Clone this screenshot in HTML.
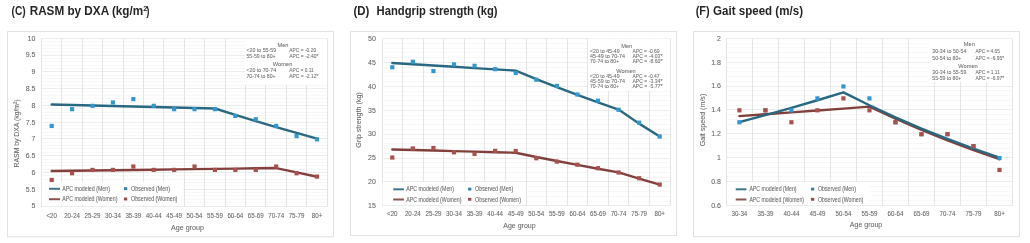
<!DOCTYPE html><html><head><meta charset="utf-8"><style>html,body{margin:0;padding:0;background:#fff;width:1030px;height:243px;overflow:hidden}svg{display:block;will-change:transform}text{font-family:"Liberation Sans",sans-serif}</style></head><body>
<svg width="1030" height="243" viewBox="0 0 1030 243">
<rect width="1030" height="243" fill="#fff"/>
<rect x="7.5" y="31.5" width="326" height="205.3" fill="#fff" stroke="#e2e2e2" stroke-width="1"/>
<line x1="41.5" y1="206.5" x2="327.2" y2="206.5" stroke="#f7f7f7" stroke-width="1"/>
<line x1="41.5" y1="202.5" x2="327.2" y2="202.5" stroke="#f7f7f7" stroke-width="1"/>
<line x1="41.5" y1="199.5" x2="327.2" y2="199.5" stroke="#f7f7f7" stroke-width="1"/>
<line x1="41.5" y1="195.5" x2="327.2" y2="195.5" stroke="#f7f7f7" stroke-width="1"/>
<line x1="41.5" y1="192.5" x2="327.2" y2="192.5" stroke="#f7f7f7" stroke-width="1"/>
<line x1="41.5" y1="189.5" x2="327.2" y2="189.5" stroke="#f7f7f7" stroke-width="1"/>
<line x1="41.5" y1="185.5" x2="327.2" y2="185.5" stroke="#f7f7f7" stroke-width="1"/>
<line x1="41.5" y1="182.5" x2="327.2" y2="182.5" stroke="#f7f7f7" stroke-width="1"/>
<line x1="41.5" y1="179.5" x2="327.2" y2="179.5" stroke="#f7f7f7" stroke-width="1"/>
<line x1="41.5" y1="175.5" x2="327.2" y2="175.5" stroke="#f7f7f7" stroke-width="1"/>
<line x1="41.5" y1="172.5" x2="327.2" y2="172.5" stroke="#f7f7f7" stroke-width="1"/>
<line x1="41.5" y1="169.5" x2="327.2" y2="169.5" stroke="#f7f7f7" stroke-width="1"/>
<line x1="41.5" y1="165.5" x2="327.2" y2="165.5" stroke="#f7f7f7" stroke-width="1"/>
<line x1="41.5" y1="162.5" x2="327.2" y2="162.5" stroke="#f7f7f7" stroke-width="1"/>
<line x1="41.5" y1="159.5" x2="327.2" y2="159.5" stroke="#f7f7f7" stroke-width="1"/>
<line x1="41.5" y1="155.5" x2="327.2" y2="155.5" stroke="#f7f7f7" stroke-width="1"/>
<line x1="41.5" y1="152.5" x2="327.2" y2="152.5" stroke="#f7f7f7" stroke-width="1"/>
<line x1="41.5" y1="148.5" x2="327.2" y2="148.5" stroke="#f7f7f7" stroke-width="1"/>
<line x1="41.5" y1="145.5" x2="327.2" y2="145.5" stroke="#f7f7f7" stroke-width="1"/>
<line x1="41.5" y1="142.5" x2="327.2" y2="142.5" stroke="#f7f7f7" stroke-width="1"/>
<line x1="41.5" y1="138.5" x2="327.2" y2="138.5" stroke="#f7f7f7" stroke-width="1"/>
<line x1="41.5" y1="135.5" x2="327.2" y2="135.5" stroke="#f7f7f7" stroke-width="1"/>
<line x1="41.5" y1="132.5" x2="327.2" y2="132.5" stroke="#f7f7f7" stroke-width="1"/>
<line x1="41.5" y1="128.5" x2="327.2" y2="128.5" stroke="#f7f7f7" stroke-width="1"/>
<line x1="41.5" y1="125.5" x2="327.2" y2="125.5" stroke="#f7f7f7" stroke-width="1"/>
<line x1="41.5" y1="122.5" x2="327.2" y2="122.5" stroke="#f7f7f7" stroke-width="1"/>
<line x1="41.5" y1="118.5" x2="327.2" y2="118.5" stroke="#f7f7f7" stroke-width="1"/>
<line x1="41.5" y1="115.5" x2="327.2" y2="115.5" stroke="#f7f7f7" stroke-width="1"/>
<line x1="41.5" y1="112.5" x2="327.2" y2="112.5" stroke="#f7f7f7" stroke-width="1"/>
<line x1="41.5" y1="108.5" x2="327.2" y2="108.5" stroke="#f7f7f7" stroke-width="1"/>
<line x1="41.5" y1="105.5" x2="327.2" y2="105.5" stroke="#f7f7f7" stroke-width="1"/>
<line x1="41.5" y1="102.5" x2="327.2" y2="102.5" stroke="#f7f7f7" stroke-width="1"/>
<line x1="41.5" y1="98.5" x2="327.2" y2="98.5" stroke="#f7f7f7" stroke-width="1"/>
<line x1="41.5" y1="95.5" x2="327.2" y2="95.5" stroke="#f7f7f7" stroke-width="1"/>
<line x1="41.5" y1="91.5" x2="327.2" y2="91.5" stroke="#f7f7f7" stroke-width="1"/>
<line x1="41.5" y1="88.5" x2="327.2" y2="88.5" stroke="#f7f7f7" stroke-width="1"/>
<line x1="41.5" y1="85.5" x2="327.2" y2="85.5" stroke="#f7f7f7" stroke-width="1"/>
<line x1="41.5" y1="81.5" x2="327.2" y2="81.5" stroke="#f7f7f7" stroke-width="1"/>
<line x1="41.5" y1="78.5" x2="327.2" y2="78.5" stroke="#f7f7f7" stroke-width="1"/>
<line x1="41.5" y1="75.5" x2="327.2" y2="75.5" stroke="#f7f7f7" stroke-width="1"/>
<line x1="41.5" y1="71.5" x2="327.2" y2="71.5" stroke="#f7f7f7" stroke-width="1"/>
<line x1="41.5" y1="68.5" x2="327.2" y2="68.5" stroke="#f7f7f7" stroke-width="1"/>
<line x1="41.5" y1="65.5" x2="327.2" y2="65.5" stroke="#f7f7f7" stroke-width="1"/>
<line x1="41.5" y1="61.5" x2="327.2" y2="61.5" stroke="#f7f7f7" stroke-width="1"/>
<line x1="41.5" y1="58.5" x2="327.2" y2="58.5" stroke="#f7f7f7" stroke-width="1"/>
<line x1="41.5" y1="55.5" x2="327.2" y2="55.5" stroke="#f7f7f7" stroke-width="1"/>
<line x1="41.5" y1="51.5" x2="327.2" y2="51.5" stroke="#f7f7f7" stroke-width="1"/>
<line x1="41.5" y1="48.5" x2="327.2" y2="48.5" stroke="#f7f7f7" stroke-width="1"/>
<line x1="41.5" y1="45.5" x2="327.2" y2="45.5" stroke="#f7f7f7" stroke-width="1"/>
<line x1="41.5" y1="41.5" x2="327.2" y2="41.5" stroke="#f7f7f7" stroke-width="1"/>
<line x1="41.5" y1="38.5" x2="327.2" y2="38.5" stroke="#f7f7f7" stroke-width="1"/>
<line x1="41.5" y1="206.5" x2="327.2" y2="206.5" stroke="#ececec" stroke-width="1"/>
<line x1="41.5" y1="189.5" x2="327.2" y2="189.5" stroke="#ececec" stroke-width="1"/>
<line x1="41.5" y1="172.5" x2="327.2" y2="172.5" stroke="#ececec" stroke-width="1"/>
<line x1="41.5" y1="155.5" x2="327.2" y2="155.5" stroke="#ececec" stroke-width="1"/>
<line x1="41.5" y1="138.5" x2="327.2" y2="138.5" stroke="#ececec" stroke-width="1"/>
<line x1="41.5" y1="122.5" x2="327.2" y2="122.5" stroke="#ececec" stroke-width="1"/>
<line x1="41.5" y1="105.5" x2="327.2" y2="105.5" stroke="#ececec" stroke-width="1"/>
<line x1="41.5" y1="88.5" x2="327.2" y2="88.5" stroke="#ececec" stroke-width="1"/>
<line x1="41.5" y1="71.5" x2="327.2" y2="71.5" stroke="#ececec" stroke-width="1"/>
<line x1="41.5" y1="55.5" x2="327.2" y2="55.5" stroke="#ececec" stroke-width="1"/>
<line x1="41.5" y1="38.5" x2="327.2" y2="38.5" stroke="#ececec" stroke-width="1"/>
<line x1="41.5" y1="38.5" x2="41.5" y2="206.5" stroke="#e4e4e4" stroke-width="1"/>
<line x1="61.5" y1="38.5" x2="61.5" y2="206.5" stroke="#e4e4e4" stroke-width="1"/>
<line x1="82.5" y1="38.5" x2="82.5" y2="206.5" stroke="#e4e4e4" stroke-width="1"/>
<line x1="102.5" y1="38.5" x2="102.5" y2="206.5" stroke="#e4e4e4" stroke-width="1"/>
<line x1="123.5" y1="38.5" x2="123.5" y2="206.5" stroke="#e4e4e4" stroke-width="1"/>
<line x1="143.5" y1="38.5" x2="143.5" y2="206.5" stroke="#e4e4e4" stroke-width="1"/>
<line x1="163.5" y1="38.5" x2="163.5" y2="206.5" stroke="#e4e4e4" stroke-width="1"/>
<line x1="184.5" y1="38.5" x2="184.5" y2="206.5" stroke="#e4e4e4" stroke-width="1"/>
<line x1="204.5" y1="38.5" x2="204.5" y2="206.5" stroke="#e4e4e4" stroke-width="1"/>
<line x1="225.5" y1="38.5" x2="225.5" y2="206.5" stroke="#e4e4e4" stroke-width="1"/>
<line x1="245.5" y1="38.5" x2="245.5" y2="206.5" stroke="#e4e4e4" stroke-width="1"/>
<line x1="265.5" y1="38.5" x2="265.5" y2="206.5" stroke="#e4e4e4" stroke-width="1"/>
<line x1="286.5" y1="38.5" x2="286.5" y2="206.5" stroke="#e4e4e4" stroke-width="1"/>
<line x1="306.5" y1="38.5" x2="306.5" y2="206.5" stroke="#e4e4e4" stroke-width="1"/>
<line x1="327.5" y1="38.5" x2="327.5" y2="206.5" stroke="#e4e4e4" stroke-width="1"/>
<rect x="245" y="38.8" width="82" height="46.2" fill="#fff"/>
<rect x="42" y="182" width="141" height="23" fill="#fff"/>
<text x="35.4" y="208.35" font-size="7.0" fill="#636363" text-anchor="end" font-weight="normal" stroke="#636363" stroke-width="0.06" >5</text>
<text x="35.4" y="191.58" font-size="7.0" fill="#636363" text-anchor="end" font-weight="normal" stroke="#636363" stroke-width="0.06" >5.5</text>
<text x="35.4" y="174.81" font-size="7.0" fill="#636363" text-anchor="end" font-weight="normal" stroke="#636363" stroke-width="0.06" >6</text>
<text x="35.4" y="158.04" font-size="7.0" fill="#636363" text-anchor="end" font-weight="normal" stroke="#636363" stroke-width="0.06" >6.5</text>
<text x="35.4" y="141.27" font-size="7.0" fill="#636363" text-anchor="end" font-weight="normal" stroke="#636363" stroke-width="0.06" >7</text>
<text x="35.4" y="124.5" font-size="7.0" fill="#636363" text-anchor="end" font-weight="normal" stroke="#636363" stroke-width="0.06" >7.5</text>
<text x="35.4" y="107.73" font-size="7.0" fill="#636363" text-anchor="end" font-weight="normal" stroke="#636363" stroke-width="0.06" >8</text>
<text x="35.4" y="90.96" font-size="7.0" fill="#636363" text-anchor="end" font-weight="normal" stroke="#636363" stroke-width="0.06" >8.5</text>
<text x="35.4" y="74.19" font-size="7.0" fill="#636363" text-anchor="end" font-weight="normal" stroke="#636363" stroke-width="0.06" >9</text>
<text x="35.4" y="57.42" font-size="7.0" fill="#636363" text-anchor="end" font-weight="normal" stroke="#636363" stroke-width="0.06" >9.5</text>
<text x="35.4" y="40.65" font-size="7.0" fill="#636363" text-anchor="end" font-weight="normal" stroke="#636363" stroke-width="0.06" >10</text>
<text x="51.7" y="217.6" font-size="6.6" fill="#636363" text-anchor="middle" font-weight="normal" textLength="10.52" lengthAdjust="spacingAndGlyphs" stroke="#636363" stroke-width="0.06" >&lt;20</text>
<text x="72.11" y="217.6" font-size="6.6" fill="#636363" text-anchor="middle" font-weight="normal" textLength="15.87" lengthAdjust="spacingAndGlyphs" stroke="#636363" stroke-width="0.06" >20-24</text>
<text x="92.52" y="217.6" font-size="6.6" fill="#636363" text-anchor="middle" font-weight="normal" textLength="15.87" lengthAdjust="spacingAndGlyphs" stroke="#636363" stroke-width="0.06" >25-29</text>
<text x="112.92" y="217.6" font-size="6.6" fill="#636363" text-anchor="middle" font-weight="normal" textLength="15.87" lengthAdjust="spacingAndGlyphs" stroke="#636363" stroke-width="0.06" >30-34</text>
<text x="133.33" y="217.6" font-size="6.6" fill="#636363" text-anchor="middle" font-weight="normal" textLength="15.87" lengthAdjust="spacingAndGlyphs" stroke="#636363" stroke-width="0.06" >35-39</text>
<text x="153.74" y="217.6" font-size="6.6" fill="#636363" text-anchor="middle" font-weight="normal" textLength="15.87" lengthAdjust="spacingAndGlyphs" stroke="#636363" stroke-width="0.06" >40-44</text>
<text x="174.15" y="217.6" font-size="6.6" fill="#636363" text-anchor="middle" font-weight="normal" textLength="15.87" lengthAdjust="spacingAndGlyphs" stroke="#636363" stroke-width="0.06" >45-49</text>
<text x="194.55" y="217.6" font-size="6.6" fill="#636363" text-anchor="middle" font-weight="normal" textLength="15.87" lengthAdjust="spacingAndGlyphs" stroke="#636363" stroke-width="0.06" >50-54</text>
<text x="214.96" y="217.6" font-size="6.6" fill="#636363" text-anchor="middle" font-weight="normal" textLength="15.87" lengthAdjust="spacingAndGlyphs" stroke="#636363" stroke-width="0.06" >55-59</text>
<text x="235.37" y="217.6" font-size="6.6" fill="#636363" text-anchor="middle" font-weight="normal" textLength="15.87" lengthAdjust="spacingAndGlyphs" stroke="#636363" stroke-width="0.06" >60-64</text>
<text x="255.77" y="217.6" font-size="6.6" fill="#636363" text-anchor="middle" font-weight="normal" textLength="15.87" lengthAdjust="spacingAndGlyphs" stroke="#636363" stroke-width="0.06" >65-69</text>
<text x="276.18" y="217.6" font-size="6.6" fill="#636363" text-anchor="middle" font-weight="normal" textLength="15.87" lengthAdjust="spacingAndGlyphs" stroke="#636363" stroke-width="0.06" >70-74</text>
<text x="296.59" y="217.6" font-size="6.6" fill="#636363" text-anchor="middle" font-weight="normal" textLength="15.87" lengthAdjust="spacingAndGlyphs" stroke="#636363" stroke-width="0.06" >75-79</text>
<text x="317" y="217.6" font-size="6.6" fill="#636363" text-anchor="middle" font-weight="normal" textLength="10.52" lengthAdjust="spacingAndGlyphs" stroke="#636363" stroke-width="0.06" >80+</text>
<text x="171.1" y="230.3" font-size="7.2" fill="#636363" text-anchor="start" font-weight="normal" textLength="32.8" lengthAdjust="spacingAndGlyphs" stroke="#636363" stroke-width="0.06" >Age group</text>
<g transform="translate(19,133.4) rotate(-90)">
<text x="0" y="0" font-size="7.2" fill="#636363" text-anchor="middle" font-weight="normal" textLength="68" lengthAdjust="spacingAndGlyphs" stroke="#636363" stroke-width="0.06" >RASM by DXA (kg/m²)</text>
</g>
<text x="11.5" y="14.5" font-size="12.2" fill="#262626" text-anchor="start" font-weight="bold" textLength="14.1" lengthAdjust="spacingAndGlyphs" >(C)</text>
<text x="29.7" y="14.5" font-size="12.2" fill="#262626" text-anchor="start" font-weight="bold" textLength="113.5" lengthAdjust="spacingAndGlyphs" >RASM by DXA (kg/m</text>
<text x="143.3" y="11" font-size="7.4" fill="#262626" text-anchor="start" font-weight="bold" >2</text>
<text x="146.2" y="14.5" font-size="12.2" fill="#262626" text-anchor="start" font-weight="bold" textLength="3.2" lengthAdjust="spacingAndGlyphs" >)</text>
<text x="283" y="46.8" font-size="5.7" fill="#6c6c6c" text-anchor="middle" font-weight="normal" stroke="#6c6c6c" stroke-width="0.06" >Men</text>
<text x="246.5" y="52.4" font-size="5.7" fill="#6c6c6c" text-anchor="start" font-weight="normal" textLength="29.6" lengthAdjust="spacingAndGlyphs" stroke="#6c6c6c" stroke-width="0.06" >&lt;20 to 55-59</text>
<text x="246.5" y="57.8" font-size="5.7" fill="#6c6c6c" text-anchor="start" font-weight="normal" textLength="29" lengthAdjust="spacingAndGlyphs" stroke="#6c6c6c" stroke-width="0.06" >55-59 to 80+</text>
<text x="289.2" y="52.4" font-size="5.7" fill="#6c6c6c" text-anchor="start" font-weight="normal" textLength="27" lengthAdjust="spacingAndGlyphs" stroke="#6c6c6c" stroke-width="0.06" >APC = -0.20</text>
<text x="289.2" y="57.8" font-size="5.7" fill="#6c6c6c" text-anchor="start" font-weight="normal" textLength="29.3" lengthAdjust="spacingAndGlyphs" stroke="#6c6c6c" stroke-width="0.06" >APC = -2.40*</text>
<text x="282.6" y="65.7" font-size="5.7" fill="#6c6c6c" text-anchor="middle" font-weight="normal" stroke="#6c6c6c" stroke-width="0.06" >Women</text>
<text x="246.5" y="72.2" font-size="5.7" fill="#6c6c6c" text-anchor="start" font-weight="normal" textLength="29.6" lengthAdjust="spacingAndGlyphs" stroke="#6c6c6c" stroke-width="0.06" >&lt;20 to 70-74</text>
<text x="246.5" y="78.1" font-size="5.7" fill="#6c6c6c" text-anchor="start" font-weight="normal" textLength="29" lengthAdjust="spacingAndGlyphs" stroke="#6c6c6c" stroke-width="0.06" >70-74 to 80+</text>
<text x="289.2" y="72.2" font-size="5.7" fill="#6c6c6c" text-anchor="start" font-weight="normal" textLength="24.5" lengthAdjust="spacingAndGlyphs" stroke="#6c6c6c" stroke-width="0.06" >APC = 0.11</text>
<text x="289.2" y="78.1" font-size="5.7" fill="#6c6c6c" text-anchor="start" font-weight="normal" textLength="29.3" lengthAdjust="spacingAndGlyphs" stroke="#6c6c6c" stroke-width="0.06" >APC = -2.12*</text>
<polyline points="51.7,171.07 72.11,170.79 92.52,170.52 112.92,170.25 133.33,169.97 153.74,169.7 174.15,169.42 194.55,169.15 214.96,168.87 235.37,168.6 255.77,168.32 276.18,168.05 296.59,172.45 317,176.77" fill="none" stroke="#82403c" stroke-width="2.4" stroke-linejoin="round" stroke-linecap="round"/>
<polyline points="51.7,104.49 72.11,104.99 92.52,105.5 112.92,106 133.33,106.51 153.74,107.01 174.15,107.51 194.55,108.01 214.96,108.51 235.37,114.85 255.77,121.03 276.18,127.06 296.59,132.95 317,138.7" fill="none" stroke="#286881" stroke-width="2.4" stroke-linejoin="round" stroke-linecap="round"/>
<rect x="49.6" y="123.85" width="4.2" height="4.2" fill="#3398cf"/>
<rect x="70.01" y="107.08" width="4.2" height="4.2" fill="#3398cf"/>
<rect x="90.42" y="103.73" width="4.2" height="4.2" fill="#3398cf"/>
<rect x="110.83" y="100.38" width="4.2" height="4.2" fill="#3398cf"/>
<rect x="131.23" y="97.02" width="4.2" height="4.2" fill="#3398cf"/>
<rect x="151.64" y="103.73" width="4.2" height="4.2" fill="#3398cf"/>
<rect x="172.05" y="107.08" width="4.2" height="4.2" fill="#3398cf"/>
<rect x="192.45" y="107.08" width="4.2" height="4.2" fill="#3398cf"/>
<rect x="212.86" y="107.08" width="4.2" height="4.2" fill="#3398cf"/>
<rect x="233.27" y="113.79" width="4.2" height="4.2" fill="#3398cf"/>
<rect x="253.67" y="117.15" width="4.2" height="4.2" fill="#3398cf"/>
<rect x="274.08" y="123.85" width="4.2" height="4.2" fill="#3398cf"/>
<rect x="294.49" y="133.92" width="4.2" height="4.2" fill="#3398cf"/>
<rect x="314.9" y="137.27" width="4.2" height="4.2" fill="#3398cf"/>
<rect x="49.6" y="177.85" width="4.2" height="4.2" fill="#a9524d"/>
<rect x="70.01" y="171.15" width="4.2" height="4.2" fill="#a9524d"/>
<rect x="90.42" y="167.79" width="4.2" height="4.2" fill="#a9524d"/>
<rect x="110.83" y="167.79" width="4.2" height="4.2" fill="#a9524d"/>
<rect x="131.23" y="164.44" width="4.2" height="4.2" fill="#a9524d"/>
<rect x="151.64" y="167.79" width="4.2" height="4.2" fill="#a9524d"/>
<rect x="172.05" y="167.79" width="4.2" height="4.2" fill="#a9524d"/>
<rect x="192.45" y="164.44" width="4.2" height="4.2" fill="#a9524d"/>
<rect x="212.86" y="167.79" width="4.2" height="4.2" fill="#a9524d"/>
<rect x="233.27" y="167.79" width="4.2" height="4.2" fill="#a9524d"/>
<rect x="253.67" y="167.79" width="4.2" height="4.2" fill="#a9524d"/>
<rect x="274.08" y="164.44" width="4.2" height="4.2" fill="#a9524d"/>
<rect x="294.49" y="171.15" width="4.2" height="4.2" fill="#a9524d"/>
<rect x="314.9" y="174.5" width="4.2" height="4.2" fill="#a9524d"/>
<line x1="49" y1="188.8" x2="60.1" y2="188.8" stroke="#3f7489" stroke-width="2"/>
<line x1="49" y1="199.2" x2="60.1" y2="199.2" stroke="#8a5450" stroke-width="2"/>
<rect x="123.95" y="187.15" width="3.3" height="2.9" fill="#3d85a8"/>
<rect x="123.95" y="197.55" width="3.3" height="2.9" fill="#934f4e"/>
<text x="62.2" y="190.9" font-size="6.3" fill="#636363" text-anchor="start" font-weight="normal" textLength="47.8" lengthAdjust="spacingAndGlyphs" stroke="#636363" stroke-width="0.06" >APC modeled (Men)</text>
<text x="62.2" y="201.3" font-size="6.3" fill="#636363" text-anchor="start" font-weight="normal" textLength="55.2" lengthAdjust="spacingAndGlyphs" stroke="#636363" stroke-width="0.06" >APC modeled (Women)</text>
<text x="131" y="190.9" font-size="6.3" fill="#636363" text-anchor="start" font-weight="normal" textLength="39" lengthAdjust="spacingAndGlyphs" stroke="#636363" stroke-width="0.06" >Observed (Men)</text>
<text x="131" y="201.3" font-size="6.3" fill="#636363" text-anchor="start" font-weight="normal" textLength="46.4" lengthAdjust="spacingAndGlyphs" stroke="#636363" stroke-width="0.06" >Observed (Women)</text>
<rect x="350.5" y="31.5" width="326" height="204" fill="#fff" stroke="#e2e2e2" stroke-width="1"/>
<line x1="382" y1="205.5" x2="670" y2="205.5" stroke="#f7f7f7" stroke-width="1"/>
<line x1="382" y1="201.5" x2="670" y2="201.5" stroke="#f7f7f7" stroke-width="1"/>
<line x1="382" y1="196.5" x2="670" y2="196.5" stroke="#f7f7f7" stroke-width="1"/>
<line x1="382" y1="191.5" x2="670" y2="191.5" stroke="#f7f7f7" stroke-width="1"/>
<line x1="382" y1="186.5" x2="670" y2="186.5" stroke="#f7f7f7" stroke-width="1"/>
<line x1="382" y1="181.5" x2="670" y2="181.5" stroke="#f7f7f7" stroke-width="1"/>
<line x1="382" y1="177.5" x2="670" y2="177.5" stroke="#f7f7f7" stroke-width="1"/>
<line x1="382" y1="172.5" x2="670" y2="172.5" stroke="#f7f7f7" stroke-width="1"/>
<line x1="382" y1="167.5" x2="670" y2="167.5" stroke="#f7f7f7" stroke-width="1"/>
<line x1="382" y1="162.5" x2="670" y2="162.5" stroke="#f7f7f7" stroke-width="1"/>
<line x1="382" y1="158.5" x2="670" y2="158.5" stroke="#f7f7f7" stroke-width="1"/>
<line x1="382" y1="153.5" x2="670" y2="153.5" stroke="#f7f7f7" stroke-width="1"/>
<line x1="382" y1="148.5" x2="670" y2="148.5" stroke="#f7f7f7" stroke-width="1"/>
<line x1="382" y1="143.5" x2="670" y2="143.5" stroke="#f7f7f7" stroke-width="1"/>
<line x1="382" y1="138.5" x2="670" y2="138.5" stroke="#f7f7f7" stroke-width="1"/>
<line x1="382" y1="134.5" x2="670" y2="134.5" stroke="#f7f7f7" stroke-width="1"/>
<line x1="382" y1="129.5" x2="670" y2="129.5" stroke="#f7f7f7" stroke-width="1"/>
<line x1="382" y1="124.5" x2="670" y2="124.5" stroke="#f7f7f7" stroke-width="1"/>
<line x1="382" y1="119.5" x2="670" y2="119.5" stroke="#f7f7f7" stroke-width="1"/>
<line x1="382" y1="115.5" x2="670" y2="115.5" stroke="#f7f7f7" stroke-width="1"/>
<line x1="382" y1="110.5" x2="670" y2="110.5" stroke="#f7f7f7" stroke-width="1"/>
<line x1="382" y1="105.5" x2="670" y2="105.5" stroke="#f7f7f7" stroke-width="1"/>
<line x1="382" y1="100.5" x2="670" y2="100.5" stroke="#f7f7f7" stroke-width="1"/>
<line x1="382" y1="95.5" x2="670" y2="95.5" stroke="#f7f7f7" stroke-width="1"/>
<line x1="382" y1="91.5" x2="670" y2="91.5" stroke="#f7f7f7" stroke-width="1"/>
<line x1="382" y1="86.5" x2="670" y2="86.5" stroke="#f7f7f7" stroke-width="1"/>
<line x1="382" y1="81.5" x2="670" y2="81.5" stroke="#f7f7f7" stroke-width="1"/>
<line x1="382" y1="76.5" x2="670" y2="76.5" stroke="#f7f7f7" stroke-width="1"/>
<line x1="382" y1="72.5" x2="670" y2="72.5" stroke="#f7f7f7" stroke-width="1"/>
<line x1="382" y1="67.5" x2="670" y2="67.5" stroke="#f7f7f7" stroke-width="1"/>
<line x1="382" y1="62.5" x2="670" y2="62.5" stroke="#f7f7f7" stroke-width="1"/>
<line x1="382" y1="57.5" x2="670" y2="57.5" stroke="#f7f7f7" stroke-width="1"/>
<line x1="382" y1="52.5" x2="670" y2="52.5" stroke="#f7f7f7" stroke-width="1"/>
<line x1="382" y1="48.5" x2="670" y2="48.5" stroke="#f7f7f7" stroke-width="1"/>
<line x1="382" y1="43.5" x2="670" y2="43.5" stroke="#f7f7f7" stroke-width="1"/>
<line x1="382" y1="38.5" x2="670" y2="38.5" stroke="#f7f7f7" stroke-width="1"/>
<line x1="382" y1="205.5" x2="670" y2="205.5" stroke="#ececec" stroke-width="1"/>
<line x1="382" y1="181.5" x2="670" y2="181.5" stroke="#ececec" stroke-width="1"/>
<line x1="382" y1="158.5" x2="670" y2="158.5" stroke="#ececec" stroke-width="1"/>
<line x1="382" y1="134.5" x2="670" y2="134.5" stroke="#ececec" stroke-width="1"/>
<line x1="382" y1="110.5" x2="670" y2="110.5" stroke="#ececec" stroke-width="1"/>
<line x1="382" y1="86.5" x2="670" y2="86.5" stroke="#ececec" stroke-width="1"/>
<line x1="382" y1="62.5" x2="670" y2="62.5" stroke="#ececec" stroke-width="1"/>
<line x1="382" y1="38.5" x2="670" y2="38.5" stroke="#ececec" stroke-width="1"/>
<line x1="382.5" y1="38.5" x2="382.5" y2="205.5" stroke="#e4e4e4" stroke-width="1"/>
<line x1="402.5" y1="38.5" x2="402.5" y2="205.5" stroke="#e4e4e4" stroke-width="1"/>
<line x1="423.5" y1="38.5" x2="423.5" y2="205.5" stroke="#e4e4e4" stroke-width="1"/>
<line x1="443.5" y1="38.5" x2="443.5" y2="205.5" stroke="#e4e4e4" stroke-width="1"/>
<line x1="464.5" y1="38.5" x2="464.5" y2="205.5" stroke="#e4e4e4" stroke-width="1"/>
<line x1="484.5" y1="38.5" x2="484.5" y2="205.5" stroke="#e4e4e4" stroke-width="1"/>
<line x1="505.5" y1="38.5" x2="505.5" y2="205.5" stroke="#e4e4e4" stroke-width="1"/>
<line x1="526.5" y1="38.5" x2="526.5" y2="205.5" stroke="#e4e4e4" stroke-width="1"/>
<line x1="546.5" y1="38.5" x2="546.5" y2="205.5" stroke="#e4e4e4" stroke-width="1"/>
<line x1="567.5" y1="38.5" x2="567.5" y2="205.5" stroke="#e4e4e4" stroke-width="1"/>
<line x1="587.5" y1="38.5" x2="587.5" y2="205.5" stroke="#e4e4e4" stroke-width="1"/>
<line x1="608.5" y1="38.5" x2="608.5" y2="205.5" stroke="#e4e4e4" stroke-width="1"/>
<line x1="628.5" y1="38.5" x2="628.5" y2="205.5" stroke="#e4e4e4" stroke-width="1"/>
<line x1="649.5" y1="38.5" x2="649.5" y2="205.5" stroke="#e4e4e4" stroke-width="1"/>
<line x1="670.5" y1="38.5" x2="670.5" y2="205.5" stroke="#e4e4e4" stroke-width="1"/>
<rect x="588" y="38.6" width="82" height="52.4" fill="#fff"/>
<rect x="382.5" y="182" width="143.5" height="23" fill="#fff"/>
<text x="375.9" y="208.15" font-size="7.0" fill="#636363" text-anchor="end" font-weight="normal" stroke="#636363" stroke-width="0.06" >15</text>
<text x="375.9" y="184.26" font-size="7.0" fill="#636363" text-anchor="end" font-weight="normal" stroke="#636363" stroke-width="0.06" >20</text>
<text x="375.9" y="160.38" font-size="7.0" fill="#636363" text-anchor="end" font-weight="normal" stroke="#636363" stroke-width="0.06" >25</text>
<text x="375.9" y="136.49" font-size="7.0" fill="#636363" text-anchor="end" font-weight="normal" stroke="#636363" stroke-width="0.06" >30</text>
<text x="375.9" y="112.61" font-size="7.0" fill="#636363" text-anchor="end" font-weight="normal" stroke="#636363" stroke-width="0.06" >35</text>
<text x="375.9" y="88.72" font-size="7.0" fill="#636363" text-anchor="end" font-weight="normal" stroke="#636363" stroke-width="0.06" >40</text>
<text x="375.9" y="64.84" font-size="7.0" fill="#636363" text-anchor="end" font-weight="normal" stroke="#636363" stroke-width="0.06" >45</text>
<text x="375.9" y="40.95" font-size="7.0" fill="#636363" text-anchor="end" font-weight="normal" stroke="#636363" stroke-width="0.06" >50</text>
<text x="392.29" y="216" font-size="6.6" fill="#636363" text-anchor="middle" font-weight="normal" textLength="10.52" lengthAdjust="spacingAndGlyphs" stroke="#636363" stroke-width="0.06" >&lt;20</text>
<text x="412.86" y="216" font-size="6.6" fill="#636363" text-anchor="middle" font-weight="normal" textLength="15.87" lengthAdjust="spacingAndGlyphs" stroke="#636363" stroke-width="0.06" >20-24</text>
<text x="433.43" y="216" font-size="6.6" fill="#636363" text-anchor="middle" font-weight="normal" textLength="15.87" lengthAdjust="spacingAndGlyphs" stroke="#636363" stroke-width="0.06" >25-29</text>
<text x="454" y="216" font-size="6.6" fill="#636363" text-anchor="middle" font-weight="normal" textLength="15.87" lengthAdjust="spacingAndGlyphs" stroke="#636363" stroke-width="0.06" >30-34</text>
<text x="474.57" y="216" font-size="6.6" fill="#636363" text-anchor="middle" font-weight="normal" textLength="15.87" lengthAdjust="spacingAndGlyphs" stroke="#636363" stroke-width="0.06" >35-39</text>
<text x="495.14" y="216" font-size="6.6" fill="#636363" text-anchor="middle" font-weight="normal" textLength="15.87" lengthAdjust="spacingAndGlyphs" stroke="#636363" stroke-width="0.06" >40-44</text>
<text x="515.71" y="216" font-size="6.6" fill="#636363" text-anchor="middle" font-weight="normal" textLength="15.87" lengthAdjust="spacingAndGlyphs" stroke="#636363" stroke-width="0.06" >45-49</text>
<text x="536.29" y="216" font-size="6.6" fill="#636363" text-anchor="middle" font-weight="normal" textLength="15.87" lengthAdjust="spacingAndGlyphs" stroke="#636363" stroke-width="0.06" >50-54</text>
<text x="556.86" y="216" font-size="6.6" fill="#636363" text-anchor="middle" font-weight="normal" textLength="15.87" lengthAdjust="spacingAndGlyphs" stroke="#636363" stroke-width="0.06" >55-59</text>
<text x="577.43" y="216" font-size="6.6" fill="#636363" text-anchor="middle" font-weight="normal" textLength="15.87" lengthAdjust="spacingAndGlyphs" stroke="#636363" stroke-width="0.06" >60-64</text>
<text x="598" y="216" font-size="6.6" fill="#636363" text-anchor="middle" font-weight="normal" textLength="15.87" lengthAdjust="spacingAndGlyphs" stroke="#636363" stroke-width="0.06" >65-69</text>
<text x="618.57" y="216" font-size="6.6" fill="#636363" text-anchor="middle" font-weight="normal" textLength="15.87" lengthAdjust="spacingAndGlyphs" stroke="#636363" stroke-width="0.06" >70-74</text>
<text x="639.14" y="216" font-size="6.6" fill="#636363" text-anchor="middle" font-weight="normal" textLength="15.87" lengthAdjust="spacingAndGlyphs" stroke="#636363" stroke-width="0.06" >75-79</text>
<text x="659.71" y="216" font-size="6.6" fill="#636363" text-anchor="middle" font-weight="normal" textLength="10.52" lengthAdjust="spacingAndGlyphs" stroke="#636363" stroke-width="0.06" >80+</text>
<text x="503.3" y="227.8" font-size="7.2" fill="#636363" text-anchor="start" font-weight="normal" textLength="32.3" lengthAdjust="spacingAndGlyphs" stroke="#636363" stroke-width="0.06" >Age group</text>
<g transform="translate(361,120) rotate(-90)">
<text x="0" y="0" font-size="7.2" fill="#636363" text-anchor="middle" font-weight="normal" textLength="55.5" lengthAdjust="spacingAndGlyphs" stroke="#636363" stroke-width="0.06" >Grip strength (kg)</text>
</g>
<text x="353.5" y="14.5" font-size="12.2" fill="#262626" text-anchor="start" font-weight="bold" textLength="15.9" lengthAdjust="spacingAndGlyphs" >(D)</text>
<text x="376.6" y="14.5" font-size="12.2" fill="#262626" text-anchor="start" font-weight="bold" textLength="121" lengthAdjust="spacingAndGlyphs" >Handgrip strength (kg)</text>
<text x="626.7" y="47.6" font-size="5.7" fill="#6c6c6c" text-anchor="middle" font-weight="normal" stroke="#6c6c6c" stroke-width="0.06" >Men</text>
<text x="590" y="53.4" font-size="5.7" fill="#6c6c6c" text-anchor="start" font-weight="normal" textLength="29.6" lengthAdjust="spacingAndGlyphs" stroke="#6c6c6c" stroke-width="0.06" >&lt;20 to 45-49</text>
<text x="590" y="57.7" font-size="5.7" fill="#6c6c6c" text-anchor="start" font-weight="normal" textLength="35" lengthAdjust="spacingAndGlyphs" stroke="#6c6c6c" stroke-width="0.06" >45-49 to 70-74</text>
<text x="590" y="62.7" font-size="5.7" fill="#6c6c6c" text-anchor="start" font-weight="normal" textLength="29" lengthAdjust="spacingAndGlyphs" stroke="#6c6c6c" stroke-width="0.06" >70-74 to 80+</text>
<text x="632.4" y="53.4" font-size="5.7" fill="#6c6c6c" text-anchor="start" font-weight="normal" textLength="27.2" lengthAdjust="spacingAndGlyphs" stroke="#6c6c6c" stroke-width="0.06" >APC = -0.60</text>
<text x="632.4" y="57.7" font-size="5.7" fill="#6c6c6c" text-anchor="start" font-weight="normal" textLength="30" lengthAdjust="spacingAndGlyphs" stroke="#6c6c6c" stroke-width="0.06" >APC = -4.03*</text>
<text x="632.4" y="62.7" font-size="5.7" fill="#6c6c6c" text-anchor="start" font-weight="normal" textLength="30" lengthAdjust="spacingAndGlyphs" stroke="#6c6c6c" stroke-width="0.06" >APC = -8.60*</text>
<text x="626" y="72.7" font-size="5.7" fill="#6c6c6c" text-anchor="middle" font-weight="normal" stroke="#6c6c6c" stroke-width="0.06" >Women</text>
<text x="590" y="77.6" font-size="5.7" fill="#6c6c6c" text-anchor="start" font-weight="normal" textLength="29.6" lengthAdjust="spacingAndGlyphs" stroke="#6c6c6c" stroke-width="0.06" >&lt;20 to 45-49</text>
<text x="590" y="82.6" font-size="5.7" fill="#6c6c6c" text-anchor="start" font-weight="normal" textLength="35" lengthAdjust="spacingAndGlyphs" stroke="#6c6c6c" stroke-width="0.06" >45-59 to 70-74</text>
<text x="590" y="87.8" font-size="5.7" fill="#6c6c6c" text-anchor="start" font-weight="normal" textLength="29" lengthAdjust="spacingAndGlyphs" stroke="#6c6c6c" stroke-width="0.06" >70-74 to 80+</text>
<text x="632.4" y="77.6" font-size="5.7" fill="#6c6c6c" text-anchor="start" font-weight="normal" textLength="27.2" lengthAdjust="spacingAndGlyphs" stroke="#6c6c6c" stroke-width="0.06" >APC = -0.47</text>
<text x="632.4" y="82.6" font-size="5.7" fill="#6c6c6c" text-anchor="start" font-weight="normal" textLength="30" lengthAdjust="spacingAndGlyphs" stroke="#6c6c6c" stroke-width="0.06" >APC = -3.34*</text>
<text x="632.4" y="87.8" font-size="5.7" fill="#6c6c6c" text-anchor="start" font-weight="normal" textLength="30" lengthAdjust="spacingAndGlyphs" stroke="#6c6c6c" stroke-width="0.06" >APC = -5.77*</text>
<polyline points="392.29,149.43 412.86,149.99 433.43,150.55 454,151.11 474.57,151.67 495.14,152.22 515.71,152.77 536.29,156.96 556.86,161.01 577.43,164.92 598,168.71 618.57,172.36 639.14,178.64 659.71,184.54" fill="none" stroke="#82403c" stroke-width="2.4" stroke-linejoin="round" stroke-linecap="round"/>
<polyline points="392.29,62.96 412.86,64.26 433.43,65.54 454,66.82 474.57,68.09 495.14,69.35 515.71,70.61 536.29,79.06 556.86,87.16 577.43,94.93 598,102.39 618.57,109.54 639.14,123.63 659.71,136.53" fill="none" stroke="#286881" stroke-width="2.4" stroke-linejoin="round" stroke-linecap="round"/>
<rect x="390.19" y="65.16" width="4.2" height="4.2" fill="#3398cf"/>
<rect x="410.76" y="59.67" width="4.2" height="4.2" fill="#3398cf"/>
<rect x="431.33" y="68.98" width="4.2" height="4.2" fill="#3398cf"/>
<rect x="451.9" y="62.3" width="4.2" height="4.2" fill="#3398cf"/>
<rect x="472.47" y="63.73" width="4.2" height="4.2" fill="#3398cf"/>
<rect x="493.04" y="67.07" width="4.2" height="4.2" fill="#3398cf"/>
<rect x="513.61" y="70.9" width="4.2" height="4.2" fill="#3398cf"/>
<rect x="534.19" y="77.58" width="4.2" height="4.2" fill="#3398cf"/>
<rect x="554.76" y="83.79" width="4.2" height="4.2" fill="#3398cf"/>
<rect x="575.33" y="92.39" width="4.2" height="4.2" fill="#3398cf"/>
<rect x="595.9" y="98.6" width="4.2" height="4.2" fill="#3398cf"/>
<rect x="616.47" y="107.68" width="4.2" height="4.2" fill="#3398cf"/>
<rect x="637.04" y="120.58" width="4.2" height="4.2" fill="#3398cf"/>
<rect x="657.61" y="134.43" width="4.2" height="4.2" fill="#3398cf"/>
<rect x="390.19" y="155.45" width="4.2" height="4.2" fill="#a9524d"/>
<rect x="410.76" y="146.37" width="4.2" height="4.2" fill="#a9524d"/>
<rect x="431.33" y="145.9" width="4.2" height="4.2" fill="#a9524d"/>
<rect x="451.9" y="150.2" width="4.2" height="4.2" fill="#a9524d"/>
<rect x="472.47" y="151.87" width="4.2" height="4.2" fill="#a9524d"/>
<rect x="493.04" y="148.76" width="4.2" height="4.2" fill="#a9524d"/>
<rect x="513.61" y="149" width="4.2" height="4.2" fill="#a9524d"/>
<rect x="534.19" y="156.17" width="4.2" height="4.2" fill="#a9524d"/>
<rect x="554.76" y="159.51" width="4.2" height="4.2" fill="#a9524d"/>
<rect x="575.33" y="162.62" width="4.2" height="4.2" fill="#a9524d"/>
<rect x="595.9" y="166.1" width="4.2" height="4.2" fill="#a9524d"/>
<rect x="616.47" y="170.4" width="4.2" height="4.2" fill="#a9524d"/>
<rect x="637.04" y="176.14" width="4.2" height="4.2" fill="#a9524d"/>
<rect x="657.61" y="182.44" width="4.2" height="4.2" fill="#a9524d"/>
<line x1="393.2" y1="189.3" x2="403.9" y2="189.3" stroke="#3f7489" stroke-width="2"/>
<line x1="393.2" y1="199.5" x2="403.9" y2="199.5" stroke="#8a5450" stroke-width="2"/>
<rect x="468.05" y="187.65" width="3.3" height="2.9" fill="#3d85a8"/>
<rect x="468.05" y="197.85" width="3.3" height="2.9" fill="#934f4e"/>
<text x="406.3" y="191.4" font-size="6.3" fill="#636363" text-anchor="start" font-weight="normal" textLength="47.7" lengthAdjust="spacingAndGlyphs" stroke="#636363" stroke-width="0.06" >APC modeled (Men)</text>
<text x="406.3" y="201.6" font-size="6.3" fill="#636363" text-anchor="start" font-weight="normal" textLength="55.2" lengthAdjust="spacingAndGlyphs" stroke="#636363" stroke-width="0.06" >APC modeled (Women)</text>
<text x="475.1" y="191.4" font-size="6.3" fill="#636363" text-anchor="start" font-weight="normal" textLength="38.2" lengthAdjust="spacingAndGlyphs" stroke="#636363" stroke-width="0.06" >Observed (Men)</text>
<text x="475.1" y="201.6" font-size="6.3" fill="#636363" text-anchor="start" font-weight="normal" textLength="45.9" lengthAdjust="spacingAndGlyphs" stroke="#636363" stroke-width="0.06" >Observed (Women)</text>
<rect x="693.5" y="31.5" width="326" height="205.1" fill="#fff" stroke="#e2e2e2" stroke-width="1"/>
<line x1="726.4" y1="205.5" x2="1012.5" y2="205.5" stroke="#f7f7f7" stroke-width="1"/>
<line x1="726.4" y1="200.5" x2="1012.5" y2="200.5" stroke="#f7f7f7" stroke-width="1"/>
<line x1="726.4" y1="195.5" x2="1012.5" y2="195.5" stroke="#f7f7f7" stroke-width="1"/>
<line x1="726.4" y1="191.5" x2="1012.5" y2="191.5" stroke="#f7f7f7" stroke-width="1"/>
<line x1="726.4" y1="186.5" x2="1012.5" y2="186.5" stroke="#f7f7f7" stroke-width="1"/>
<line x1="726.4" y1="181.5" x2="1012.5" y2="181.5" stroke="#f7f7f7" stroke-width="1"/>
<line x1="726.4" y1="176.5" x2="1012.5" y2="176.5" stroke="#f7f7f7" stroke-width="1"/>
<line x1="726.4" y1="172.5" x2="1012.5" y2="172.5" stroke="#f7f7f7" stroke-width="1"/>
<line x1="726.4" y1="167.5" x2="1012.5" y2="167.5" stroke="#f7f7f7" stroke-width="1"/>
<line x1="726.4" y1="162.5" x2="1012.5" y2="162.5" stroke="#f7f7f7" stroke-width="1"/>
<line x1="726.4" y1="157.5" x2="1012.5" y2="157.5" stroke="#f7f7f7" stroke-width="1"/>
<line x1="726.4" y1="152.5" x2="1012.5" y2="152.5" stroke="#f7f7f7" stroke-width="1"/>
<line x1="726.4" y1="148.5" x2="1012.5" y2="148.5" stroke="#f7f7f7" stroke-width="1"/>
<line x1="726.4" y1="143.5" x2="1012.5" y2="143.5" stroke="#f7f7f7" stroke-width="1"/>
<line x1="726.4" y1="138.5" x2="1012.5" y2="138.5" stroke="#f7f7f7" stroke-width="1"/>
<line x1="726.4" y1="133.5" x2="1012.5" y2="133.5" stroke="#f7f7f7" stroke-width="1"/>
<line x1="726.4" y1="129.5" x2="1012.5" y2="129.5" stroke="#f7f7f7" stroke-width="1"/>
<line x1="726.4" y1="124.5" x2="1012.5" y2="124.5" stroke="#f7f7f7" stroke-width="1"/>
<line x1="726.4" y1="119.5" x2="1012.5" y2="119.5" stroke="#f7f7f7" stroke-width="1"/>
<line x1="726.4" y1="114.5" x2="1012.5" y2="114.5" stroke="#f7f7f7" stroke-width="1"/>
<line x1="726.4" y1="109.5" x2="1012.5" y2="109.5" stroke="#f7f7f7" stroke-width="1"/>
<line x1="726.4" y1="105.5" x2="1012.5" y2="105.5" stroke="#f7f7f7" stroke-width="1"/>
<line x1="726.4" y1="100.5" x2="1012.5" y2="100.5" stroke="#f7f7f7" stroke-width="1"/>
<line x1="726.4" y1="95.5" x2="1012.5" y2="95.5" stroke="#f7f7f7" stroke-width="1"/>
<line x1="726.4" y1="90.5" x2="1012.5" y2="90.5" stroke="#f7f7f7" stroke-width="1"/>
<line x1="726.4" y1="86.5" x2="1012.5" y2="86.5" stroke="#f7f7f7" stroke-width="1"/>
<line x1="726.4" y1="81.5" x2="1012.5" y2="81.5" stroke="#f7f7f7" stroke-width="1"/>
<line x1="726.4" y1="76.5" x2="1012.5" y2="76.5" stroke="#f7f7f7" stroke-width="1"/>
<line x1="726.4" y1="71.5" x2="1012.5" y2="71.5" stroke="#f7f7f7" stroke-width="1"/>
<line x1="726.4" y1="67.5" x2="1012.5" y2="67.5" stroke="#f7f7f7" stroke-width="1"/>
<line x1="726.4" y1="62.5" x2="1012.5" y2="62.5" stroke="#f7f7f7" stroke-width="1"/>
<line x1="726.4" y1="57.5" x2="1012.5" y2="57.5" stroke="#f7f7f7" stroke-width="1"/>
<line x1="726.4" y1="52.5" x2="1012.5" y2="52.5" stroke="#f7f7f7" stroke-width="1"/>
<line x1="726.4" y1="47.5" x2="1012.5" y2="47.5" stroke="#f7f7f7" stroke-width="1"/>
<line x1="726.4" y1="43.5" x2="1012.5" y2="43.5" stroke="#f7f7f7" stroke-width="1"/>
<line x1="726.4" y1="38.5" x2="1012.5" y2="38.5" stroke="#f7f7f7" stroke-width="1"/>
<line x1="726.4" y1="205.5" x2="1012.5" y2="205.5" stroke="#ececec" stroke-width="1"/>
<line x1="726.4" y1="181.5" x2="1012.5" y2="181.5" stroke="#ececec" stroke-width="1"/>
<line x1="726.4" y1="157.5" x2="1012.5" y2="157.5" stroke="#ececec" stroke-width="1"/>
<line x1="726.4" y1="133.5" x2="1012.5" y2="133.5" stroke="#ececec" stroke-width="1"/>
<line x1="726.4" y1="109.5" x2="1012.5" y2="109.5" stroke="#ececec" stroke-width="1"/>
<line x1="726.4" y1="86.5" x2="1012.5" y2="86.5" stroke="#ececec" stroke-width="1"/>
<line x1="726.4" y1="62.5" x2="1012.5" y2="62.5" stroke="#ececec" stroke-width="1"/>
<line x1="726.4" y1="38.5" x2="1012.5" y2="38.5" stroke="#ececec" stroke-width="1"/>
<line x1="726.5" y1="38.5" x2="726.5" y2="205.5" stroke="#e4e4e4" stroke-width="1"/>
<line x1="752.5" y1="38.5" x2="752.5" y2="205.5" stroke="#e4e4e4" stroke-width="1"/>
<line x1="778.5" y1="38.5" x2="778.5" y2="205.5" stroke="#e4e4e4" stroke-width="1"/>
<line x1="804.5" y1="38.5" x2="804.5" y2="205.5" stroke="#e4e4e4" stroke-width="1"/>
<line x1="830.5" y1="38.5" x2="830.5" y2="205.5" stroke="#e4e4e4" stroke-width="1"/>
<line x1="856.5" y1="38.5" x2="856.5" y2="205.5" stroke="#e4e4e4" stroke-width="1"/>
<line x1="882.5" y1="38.5" x2="882.5" y2="205.5" stroke="#e4e4e4" stroke-width="1"/>
<line x1="908.5" y1="38.5" x2="908.5" y2="205.5" stroke="#e4e4e4" stroke-width="1"/>
<line x1="934.5" y1="38.5" x2="934.5" y2="205.5" stroke="#e4e4e4" stroke-width="1"/>
<line x1="960.5" y1="38.5" x2="960.5" y2="205.5" stroke="#e4e4e4" stroke-width="1"/>
<line x1="986.5" y1="38.5" x2="986.5" y2="205.5" stroke="#e4e4e4" stroke-width="1"/>
<line x1="1012.5" y1="38.5" x2="1012.5" y2="205.5" stroke="#e4e4e4" stroke-width="1"/>
<rect x="929" y="38.8" width="83" height="43.2" fill="#fff"/>
<rect x="727" y="182" width="143" height="23" fill="#fff"/>
<text x="720.9" y="207.75" font-size="7.0" fill="#636363" text-anchor="end" font-weight="normal" stroke="#636363" stroke-width="0.06" >0.6</text>
<text x="720.9" y="183.89" font-size="7.0" fill="#636363" text-anchor="end" font-weight="normal" stroke="#636363" stroke-width="0.06" >0.8</text>
<text x="720.9" y="160.04" font-size="7.0" fill="#636363" text-anchor="end" font-weight="normal" stroke="#636363" stroke-width="0.06" >1</text>
<text x="720.9" y="136.18" font-size="7.0" fill="#636363" text-anchor="end" font-weight="normal" stroke="#636363" stroke-width="0.06" >1.2</text>
<text x="720.9" y="112.32" font-size="7.0" fill="#636363" text-anchor="end" font-weight="normal" stroke="#636363" stroke-width="0.06" >1.4</text>
<text x="720.9" y="88.46" font-size="7.0" fill="#636363" text-anchor="end" font-weight="normal" stroke="#636363" stroke-width="0.06" >1.6</text>
<text x="720.9" y="64.61" font-size="7.0" fill="#636363" text-anchor="end" font-weight="normal" stroke="#636363" stroke-width="0.06" >1.8</text>
<text x="720.9" y="40.75" font-size="7.0" fill="#636363" text-anchor="end" font-weight="normal" stroke="#636363" stroke-width="0.06" >2</text>
<text x="739.4" y="216" font-size="6.6" fill="#636363" text-anchor="middle" font-weight="normal" textLength="15.87" lengthAdjust="spacingAndGlyphs" stroke="#636363" stroke-width="0.06" >30-34</text>
<text x="765.41" y="216" font-size="6.6" fill="#636363" text-anchor="middle" font-weight="normal" textLength="15.87" lengthAdjust="spacingAndGlyphs" stroke="#636363" stroke-width="0.06" >35-39</text>
<text x="791.42" y="216" font-size="6.6" fill="#636363" text-anchor="middle" font-weight="normal" textLength="15.87" lengthAdjust="spacingAndGlyphs" stroke="#636363" stroke-width="0.06" >40-44</text>
<text x="817.43" y="216" font-size="6.6" fill="#636363" text-anchor="middle" font-weight="normal" textLength="15.87" lengthAdjust="spacingAndGlyphs" stroke="#636363" stroke-width="0.06" >45-49</text>
<text x="843.44" y="216" font-size="6.6" fill="#636363" text-anchor="middle" font-weight="normal" textLength="15.87" lengthAdjust="spacingAndGlyphs" stroke="#636363" stroke-width="0.06" >50-54</text>
<text x="869.45" y="216" font-size="6.6" fill="#636363" text-anchor="middle" font-weight="normal" textLength="15.87" lengthAdjust="spacingAndGlyphs" stroke="#636363" stroke-width="0.06" >55-59</text>
<text x="895.46" y="216" font-size="6.6" fill="#636363" text-anchor="middle" font-weight="normal" textLength="15.87" lengthAdjust="spacingAndGlyphs" stroke="#636363" stroke-width="0.06" >60-64</text>
<text x="921.47" y="216" font-size="6.6" fill="#636363" text-anchor="middle" font-weight="normal" textLength="15.87" lengthAdjust="spacingAndGlyphs" stroke="#636363" stroke-width="0.06" >65-69</text>
<text x="947.48" y="216" font-size="6.6" fill="#636363" text-anchor="middle" font-weight="normal" textLength="15.87" lengthAdjust="spacingAndGlyphs" stroke="#636363" stroke-width="0.06" >70-74</text>
<text x="973.49" y="216" font-size="6.6" fill="#636363" text-anchor="middle" font-weight="normal" textLength="15.87" lengthAdjust="spacingAndGlyphs" stroke="#636363" stroke-width="0.06" >75-79</text>
<text x="999.5" y="216" font-size="6.6" fill="#636363" text-anchor="middle" font-weight="normal" textLength="10.52" lengthAdjust="spacingAndGlyphs" stroke="#636363" stroke-width="0.06" >80+</text>
<text x="849.8" y="227.4" font-size="7.2" fill="#636363" text-anchor="start" font-weight="normal" textLength="32.4" lengthAdjust="spacingAndGlyphs" stroke="#636363" stroke-width="0.06" >Age group</text>
<g transform="translate(705.4,120) rotate(-90)">
<text x="0" y="0" font-size="7.2" fill="#636363" text-anchor="middle" font-weight="normal" textLength="52.6" lengthAdjust="spacingAndGlyphs" stroke="#636363" stroke-width="0.06" >Gait speed (m/s)</text>
</g>
<text x="695.7" y="14.5" font-size="12.2" fill="#262626" text-anchor="start" font-weight="bold" textLength="14" lengthAdjust="spacingAndGlyphs" >(F)</text>
<text x="713" y="14.5" font-size="12.2" fill="#262626" text-anchor="start" font-weight="bold" textLength="90" lengthAdjust="spacingAndGlyphs" >Gait speed (m/s)</text>
<text x="969.3" y="46" font-size="5.7" fill="#6c6c6c" text-anchor="middle" font-weight="normal" stroke="#6c6c6c" stroke-width="0.06" >Men</text>
<text x="932.3" y="52.8" font-size="5.7" fill="#6c6c6c" text-anchor="start" font-weight="normal" textLength="34" lengthAdjust="spacingAndGlyphs" stroke="#6c6c6c" stroke-width="0.06" >30-34 to 50-54</text>
<text x="932.3" y="59.6" font-size="5.7" fill="#6c6c6c" text-anchor="start" font-weight="normal" textLength="29" lengthAdjust="spacingAndGlyphs" stroke="#6c6c6c" stroke-width="0.06" >50-54 to 80+</text>
<text x="975.4" y="52.8" font-size="5.7" fill="#6c6c6c" text-anchor="start" font-weight="normal" textLength="24.5" lengthAdjust="spacingAndGlyphs" stroke="#6c6c6c" stroke-width="0.06" >APC = 4.65</text>
<text x="975.4" y="59.6" font-size="5.7" fill="#6c6c6c" text-anchor="start" font-weight="normal" textLength="28.7" lengthAdjust="spacingAndGlyphs" stroke="#6c6c6c" stroke-width="0.06" >APC = -6.95*</text>
<text x="968" y="68" font-size="5.7" fill="#6c6c6c" text-anchor="middle" font-weight="normal" stroke="#6c6c6c" stroke-width="0.06" >Women</text>
<text x="932.3" y="73.8" font-size="5.7" fill="#6c6c6c" text-anchor="start" font-weight="normal" textLength="34" lengthAdjust="spacingAndGlyphs" stroke="#6c6c6c" stroke-width="0.06" >30-34 to 55-59</text>
<text x="932.3" y="79.5" font-size="5.7" fill="#6c6c6c" text-anchor="start" font-weight="normal" textLength="29" lengthAdjust="spacingAndGlyphs" stroke="#6c6c6c" stroke-width="0.06" >55-59 to 80+</text>
<text x="975.4" y="73.8" font-size="5.7" fill="#6c6c6c" text-anchor="start" font-weight="normal" textLength="24.5" lengthAdjust="spacingAndGlyphs" stroke="#6c6c6c" stroke-width="0.06" >APC = 1.11</text>
<text x="975.4" y="79.5" font-size="5.7" fill="#6c6c6c" text-anchor="start" font-weight="normal" textLength="28.7" lengthAdjust="spacingAndGlyphs" stroke="#6c6c6c" stroke-width="0.06" >APC = -6.97*</text>
<polyline points="739.4,116.17 765.41,114.3 791.42,112.42 817.43,110.51 843.44,108.58 869.45,106.62 895.46,118.75 921.47,130.01 947.48,140.48 973.49,150.2 999.5,159.23" fill="none" stroke="#82403c" stroke-width="2.4" stroke-linejoin="round" stroke-linecap="round"/>
<polyline points="739.4,122.13 765.41,115.16 791.42,107.87 817.43,100.26 843.44,92.31 869.45,105.27 895.46,117.33 921.47,128.54 947.48,138.97 973.49,148.66 999.5,157.68" fill="none" stroke="#286881" stroke-width="2.4" stroke-linejoin="round" stroke-linecap="round"/>
<rect x="737.3" y="120.15" width="4.2" height="4.2" fill="#3398cf"/>
<rect x="763.31" y="108.22" width="4.2" height="4.2" fill="#3398cf"/>
<rect x="789.32" y="108.22" width="4.2" height="4.2" fill="#3398cf"/>
<rect x="815.33" y="96.29" width="4.2" height="4.2" fill="#3398cf"/>
<rect x="841.34" y="84.36" width="4.2" height="4.2" fill="#3398cf"/>
<rect x="867.35" y="96.29" width="4.2" height="4.2" fill="#3398cf"/>
<rect x="893.36" y="120.15" width="4.2" height="4.2" fill="#3398cf"/>
<rect x="919.37" y="132.08" width="4.2" height="4.2" fill="#3398cf"/>
<rect x="945.38" y="132.08" width="4.2" height="4.2" fill="#3398cf"/>
<rect x="971.39" y="144.01" width="4.2" height="4.2" fill="#3398cf"/>
<rect x="997.4" y="155.94" width="4.2" height="4.2" fill="#3398cf"/>
<rect x="737.3" y="108.22" width="4.2" height="4.2" fill="#a9524d"/>
<rect x="763.31" y="108.22" width="4.2" height="4.2" fill="#a9524d"/>
<rect x="789.32" y="120.15" width="4.2" height="4.2" fill="#a9524d"/>
<rect x="815.33" y="108.22" width="4.2" height="4.2" fill="#a9524d"/>
<rect x="841.34" y="96.29" width="4.2" height="4.2" fill="#a9524d"/>
<rect x="867.35" y="108.22" width="4.2" height="4.2" fill="#a9524d"/>
<rect x="893.36" y="120.15" width="4.2" height="4.2" fill="#a9524d"/>
<rect x="919.37" y="132.08" width="4.2" height="4.2" fill="#a9524d"/>
<rect x="945.38" y="132.08" width="4.2" height="4.2" fill="#a9524d"/>
<rect x="971.39" y="144.01" width="4.2" height="4.2" fill="#a9524d"/>
<rect x="997.4" y="167.86" width="4.2" height="4.2" fill="#a9524d"/>
<line x1="735.7" y1="189.3" x2="746.4" y2="189.3" stroke="#3f7489" stroke-width="2"/>
<line x1="735.7" y1="199.5" x2="746.4" y2="199.5" stroke="#8a5450" stroke-width="2"/>
<rect x="810.95" y="187.65" width="3.3" height="2.9" fill="#3d85a8"/>
<rect x="810.95" y="197.85" width="3.3" height="2.9" fill="#934f4e"/>
<text x="749.4" y="191.4" font-size="6.3" fill="#636363" text-anchor="start" font-weight="normal" textLength="47.2" lengthAdjust="spacingAndGlyphs" stroke="#636363" stroke-width="0.06" >APC modeled (Men)</text>
<text x="749.4" y="201.6" font-size="6.3" fill="#636363" text-anchor="start" font-weight="normal" textLength="54.6" lengthAdjust="spacingAndGlyphs" stroke="#636363" stroke-width="0.06" >APC modeled (Women)</text>
<text x="818" y="191.4" font-size="6.3" fill="#636363" text-anchor="start" font-weight="normal" textLength="37.9" lengthAdjust="spacingAndGlyphs" stroke="#636363" stroke-width="0.06" >Observed (Men)</text>
<text x="818" y="201.6" font-size="6.3" fill="#636363" text-anchor="start" font-weight="normal" textLength="45.3" lengthAdjust="spacingAndGlyphs" stroke="#636363" stroke-width="0.06" >Observed (Women)</text>
</svg></body></html>
